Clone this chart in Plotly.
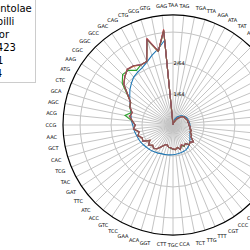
import plotly.graph_objects as go

codons = ["ACT", "TGT", "AGG", "CGA", "GTA", "AGT", "ATT", "AAA", "CTA", "AAT",
          "TAT", "ATA", "AGA", "TTA", "TGA", "TAG", "TAA", "GAG", "GTG", "GCG",
          "CTG", "CAG", "GAC", "GCC", "GGC", "CGC", "AAG", "ATG", "CTC", "GCA",
          "AGC", "ACG", "CCG", "AAC", "GCT", "CAC", "TCG", "TAC", "GAT", "TTC",
          "ATC", "ACC", "GTC", "TCC", "GAA", "ACA", "GGT", "CTT", "TGC", "CCA",
          "TCT", "TTG", "TTT", "CGT", "CCC", "CGG", "GGA", "CAA", "GGG", "CCT",
          "TGG", "GTT", "CAT", "TCA"]

species = ["Leishmania tarentolae", "Leishmania gerbilli", "Leishmania major",
           "L. turanica LEM423", "L. major SD 75.1", "L. spp. LEM2494"]

# codon usage in units of 1/64
tarentolae = [0.55, 0.54, 0.53, 0.52, 0.51, 0.50, 0.48, 0.45, 0.42, 0.38,
              0.34, 0.30, 0.25, 0.20, 0.05, 0.03, 0.02, 2.75, 2.50, 2.35,
              2.20, 2.10, 2.05, 2.00, 1.90, 1.80, 1.68, 1.58, 1.50, 1.42,
              1.38, 1.35, 1.30, 1.28, 1.25, 1.22, 1.20, 1.18, 1.15, 1.12,
              1.10, 1.08, 1.05, 1.03, 1.00, 0.99, 0.98, 0.97, 0.96, 0.95,
              0.94, 0.93, 0.92, 0.90, 0.87, 0.82, 0.76, 0.71, 0.66, 0.62,
              0.60, 0.58, 0.57, 0.56]
gerbilli = [0.50, 0.52, 0.48, 0.50, 0.47, 0.45, 0.44, 0.43, 0.38, 0.30,
            0.25, 0.18, 0.12, 0.08, 0.03, 0.02, 0.02, 3.06, 2.42, 2.88,
            2.22, 2.20, 2.28, 2.32, 2.20, 2.05, 1.75, 1.55, 1.50, 1.38,
            1.42, 1.32, 1.22, 1.28, 1.12, 1.18, 1.08, 1.10, 0.90, 1.02,
            0.93, 0.98, 0.92, 0.80, 0.70, 0.66, 0.73, 0.74, 0.78, 0.80,
            0.74, 0.82, 0.70, 0.76, 0.72, 0.83, 0.78, 0.85, 0.70, 0.68,
            0.60, 0.62, 0.55, 0.56]
major = [0.50, 0.52, 0.48, 0.50, 0.47, 0.45, 0.44, 0.43, 0.38, 0.30,
         0.25, 0.18, 0.12, 0.08, 0.03, 0.02, 0.02, 3.05, 2.42, 2.88,
         2.22, 2.20, 2.12, 2.28, 2.30, 2.12, 1.78, 1.55, 1.52, 1.40,
         1.58, 1.32, 1.22, 1.28, 1.12, 1.18, 1.08, 1.10, 0.90, 1.02,
         0.93, 0.98, 0.92, 0.80, 0.70, 0.66, 0.73, 0.76, 0.78, 0.80,
         0.74, 0.82, 0.72, 0.78, 0.72, 0.83, 0.78, 0.85, 0.70, 0.68,
         0.60, 0.62, 0.55, 0.56]
turanica = [0.50, 0.52, 0.48, 0.50, 0.47, 0.45, 0.44, 0.43, 0.38, 0.30,
            0.25, 0.18, 0.12, 0.08, 0.03, 0.02, 0.02, 3.10, 2.43, 2.92,
            2.22, 2.20, 2.30, 2.33, 2.21, 2.06, 1.76, 1.56, 1.50, 1.38,
            1.43, 1.32, 1.22, 1.28, 1.12, 1.18, 1.08, 1.10, 0.90, 1.02,
            0.93, 0.98, 0.92, 0.80, 0.70, 0.66, 0.73, 0.74, 0.78, 0.80,
            0.74, 0.82, 0.70, 0.76, 0.72, 0.83, 0.78, 0.85, 0.70, 0.68,
            0.60, 0.62, 0.55, 0.56]
majorSD = [0.50, 0.52, 0.48, 0.50, 0.47, 0.45, 0.44, 0.43, 0.38, 0.30,
           0.25, 0.18, 0.12, 0.08, 0.03, 0.02, 0.02, 3.07, 2.42, 2.90,
           2.22, 2.20, 2.30, 2.32, 2.20, 2.05, 1.75, 1.55, 1.50, 1.38,
           1.42, 1.32, 1.22, 1.28, 1.12, 1.18, 1.08, 1.10, 0.90, 1.02,
           0.93, 0.98, 0.92, 0.80, 0.70, 0.66, 0.73, 0.74, 0.78, 0.80,
           0.74, 0.82, 0.70, 0.76, 0.72, 0.83, 0.78, 0.85, 0.70, 0.68,
           0.60, 0.62, 0.55, 0.56]
spp = [0.50, 0.52, 0.48, 0.50, 0.47, 0.45, 0.44, 0.43, 0.38, 0.30,
       0.25, 0.18, 0.12, 0.08, 0.03, 0.02, 0.02, 3.08, 2.42, 2.90,
       2.22, 2.20, 2.30, 2.32, 2.20, 2.05, 1.75, 1.55, 1.50, 1.38,
       1.42, 1.32, 1.22, 1.28, 1.12, 1.18, 1.08, 1.10, 0.90, 1.02,
       0.93, 0.98, 0.92, 0.80, 0.70, 0.66, 0.73, 0.74, 0.78, 0.80,
       0.74, 0.82, 0.70, 0.76, 0.72, 0.83, 0.78, 0.85, 0.70, 0.68,
       0.60, 0.62, 0.55, 0.56]

series = [tarentolae, gerbilli, major, turanica, majorSD, spp]
colors = ["#1f77b4", "#ff7f0e", "#2ca02c", "#d62728", "#9467bd", "#8c564b"]

radial_ticks = [1 / 64, 2 / 64, 3 / 64]
radial_text = ["1/64", "2/64", ""]

fig = go.Figure()
for name, vals, col in zip(species, series, colors):
    r = [v / 64 for v in vals]
    fig.add_trace(go.Scatterpolar(
        r=r + r[:1], theta=codons + codons[:1], mode="lines", name=name,
        line=dict(color=col, width=1.1), showlegend=False))

fig.add_annotation(
    text="<br>".join(species), xref="paper", yref="paper",
    x=(36 - 63) / 220, y=(235 - 83) / 220, xanchor="right", yanchor="bottom",
    align="left", showarrow=False, bgcolor="rgba(255,255,255,0.85)",
    bordercolor="#cccccc", borderwidth=1, borderpad=3,
    font=dict(family="DejaVu Sans", size=10, color="#000000"))

fig.update_layout(
    width=290, height=250,
    margin=dict(l=63, r=7, t=15, b=15, autoexpand=False),
    paper_bgcolor="white",
    font=dict(family="DejaVu Sans", color="#000000"),
    polar=dict(
        bgcolor="white",
        angularaxis=dict(type="category", categoryarray=codons, rotation=0,
                         direction="counterclockwise", showline=True,
                         linecolor="black", linewidth=1.2, ticks="outside",
                         ticklen=5, tickcolor="rgba(0,0,0,0)",
                         gridcolor="#c4c4c4", gridwidth=0.7,
                         tickfont=dict(size=5, color="#000000")),
        radialaxis=dict(range=[0, 0.0555], tickvals=radial_ticks,
                        ticktext=radial_text, showline=False, ticks="",
                        angle=90, tickangle=90, gridcolor="#c4c4c4",
                        gridwidth=0.8,
                        tickfont=dict(size=5, color="#000000")),
    ),
)

fig.write_html("out.html")
